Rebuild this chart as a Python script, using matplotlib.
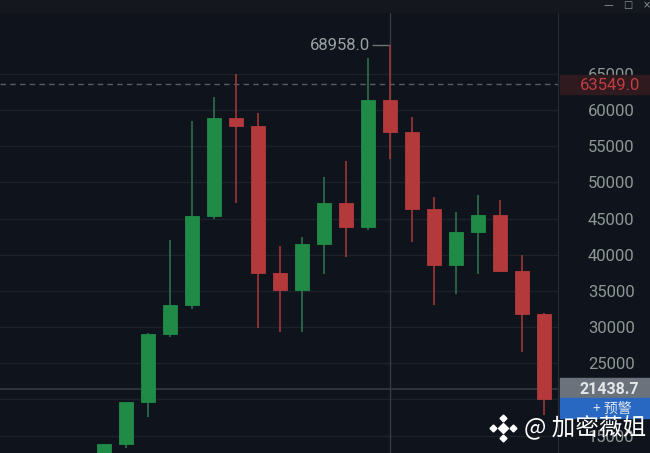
import matplotlib
matplotlib.use("Agg")
import matplotlib.pyplot as plt
from matplotlib.patches import Rectangle
from matplotlib.lines import Line2D

# monthly candles, Oct 2020 .. Jun 2022
months = ["2020-10", "2020-11", "2020-12", "2021-01", "2021-02", "2021-03", "2021-04",
          "2021-05", "2021-06", "2021-07", "2021-08", "2021-09", "2021-10", "2021-11",
          "2021-12", "2022-01", "2022-02", "2022-03", "2022-04", "2022-05", "2022-06"]
opens = [10800, 13840, 19650, 29040, 33050, 45350, 58890, 57790, 37470, 35120, 41480,
         47150, 43830, 61380, 56960, 46320, 38580, 43140, 45490, 37750, 31810]
highs = [13900, 19700, 29200, 42030, 58480, 61800, 64980, 59590, 41200, 42450, 50740,
         52950, 67190, 68958, 59030, 47980, 45900, 48250, 47560, 39960, 31980]
lows = [10400, 13290, 17570, 28630, 32500, 45000, 47150, 29870, 29320, 29300, 37340,
        39690, 43420, 53260, 41760, 33050, 34570, 37340, 37580, 26560, 17850]
closes = [13840, 19650, 29040, 33050, 45350, 58890, 57790, 37470, 35120, 41480, 47150,
          43830, 61380, 56960, 46320, 38580, 43140, 45490, 37750, 31810, 20000]
yticks = [15000, 20000, 25000, 30000, 35000, 40000, 45000, 50000, 55000, 60000, 65000]
ath = 68958.0
mark_price = 63549.0
last_price = 21438.7

BG = "#0f131b"
UP = "#1f8b47"
DOWN = "#b3393b"
UP_WICK = "#2f6f4c"
DOWN_WICK = "#a33536"
TXT = "#8d9893"

W, H = 650, 453
fig = plt.figure(figsize=(6.5, 4.53), dpi=100, facecolor=BG)
ax = fig.add_axes([0, 0, 558 / W, 441 / H], facecolor=BG)

def fx(x):
    return x / W

def fy(y):
    return 1 - y / H

xs = list(range(len(months)))
up = [c >= o for o, c in zip(opens, closes)]
cols = [UP if u else DOWN for u in up]
wcols = [UP_WICK if u else DOWN_WICK for u in up]
bottoms = [min(o, c) for o, c in zip(opens, closes)]
heights = [abs(c - o) for o, c in zip(opens, closes)]

ax.vlines(xs, lows, highs, colors=wcols, lw=1.2, zorder=3)
ax.bar(xs, heights, bottom=bottoms, width=0.62, color=cols, edgecolor=cols, lw=0.6, zorder=4)

ax.set_xlim(-104 / 22, (558 - 104) / 22)
ax.set_ylim(12597, 73544)
ax.set_xticks([])
ax.set_yticks(yticks)
ax.yaxis.tick_right()
ax.tick_params(axis="y", length=0, pad=21.5, labelsize=12, labelcolor=TXT)
for lab in ax.get_yticklabels():
    lab.set_fontfamily("Roboto")
ax.grid(axis="y", color="#1c212a", lw=1)
for s in ["top", "left", "bottom"]:
    ax.spines[s].set_visible(False)
ax.spines["right"].set_color("#252a33")

# crosshair, price lines
ax.axvline(13, color="#363c45", lw=1, zorder=2)
ax.axhline(mark_price, color="#565d66", lw=1, ls=(0, (4, 3)), zorder=2)
ax.axhline(last_price, color="#353a42", lw=1.2, zorder=2)
ax.hlines(ath, 12.2, 13, color="#6d7675", lw=1, zorder=2)
ax.text(12.1, ath, f"{ath:.1f}", color="#97a3a2", fontsize=12, family="Roboto",
        ha="right", va="center")

# top bar with window buttons
fig.add_artist(Rectangle((0, fy(12)), 1, 12 / H, transform=fig.transFigure,
                         color="#14181e", zorder=5))
for x, s in [(608, "—"), (628, "□"), (647, "×")]:
    fig.text(fx(x), fy(5), s, color="#8a9399", fontsize=7, ha="center", va="center", zorder=6)

# price labels on the axis
fig.add_artist(Rectangle((fx(560), fy(94)), 90 / W, 19 / H, transform=fig.transFigure,
                         color="#2f1a20", zorder=5))
fig.text(fx(580), fy(85), f"{mark_price:.1f}", color="#c23d40", fontsize=12,
         family="Roboto", ha="left", va="center", zorder=6)
fig.add_artist(Rectangle((fx(560), fy(398)), 90 / W, 20 / H, transform=fig.transFigure,
                         color="#6b727c", zorder=5))
fig.text(fx(609), fy(389), f"{last_price:.1f}", color="#e3e7ea", fontsize=11.5,
         family="Roboto", weight="bold", ha="center", va="center", zorder=6)
fig.add_artist(Rectangle((fx(560), fy(418)), 90 / W, 20 / H, transform=fig.transFigure,
                         color="#2868c2", zorder=5))
fig.text(fx(612), fy(409), "+ 预警", color="#dfe6ef", fontsize=10,
         family=["Noto Sans CJK SC", "DejaVu Sans"], ha="center", va="center", zorder=6)

# watermark
fig.text(fx(524), fy(428), "@ 加密薇姐", color="white", fontsize=17,
         family=["Noto Sans CJK SC", "DejaVu Sans"], ha="left", va="center", zorder=7)
lx, ly = fx(503), fy(428)
for dx, dy, ms in [(0, 0, 5), (-10, 0, 3.5), (10, 0, 3.5), (0, -10, 3.5), (0, 10, 3.5)]:
    fig.add_artist(Line2D([lx + dx / W], [ly + dy / H], marker="D", ms=ms, color="white",
                          mec="white", transform=fig.transFigure, zorder=7))

fig.savefig("out.png", dpi=100, facecolor=BG)
